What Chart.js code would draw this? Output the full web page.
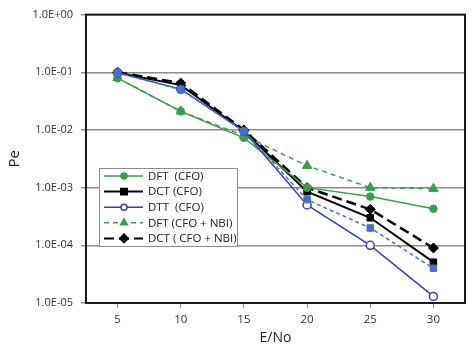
<!DOCTYPE html>
<html>
<head>
<meta charset="utf-8">
<script src="https://cdn.jsdelivr.net/npm/chart.js@4/dist/chart.umd.min.js"></script>
<style>
  html, body { margin: 0; padding: 0; background: #fff; }
  #wrap { width: 474px; height: 351px; }
</style>
</head>
<body>
<div id="wrap"><canvas id="peChart" width="474" height="351"></canvas></div>
<script>
'use strict';

/* ── data ────────────────────────────────────────────────────────────── */
const snrLabels = ['5', '10', '15', '20', '25', '30'];
const yTicks = [1e-5, 1e-4, 1e-3, 1e-2, 1e-1, 1];

const dftCfo    = [0.079, 0.021, 0.0073, 0.00100, 0.00070, 0.00043];
const dctCfo    = [0.098, 0.060, 0.0095, 0.00085, 0.00030, 0.000051];
const dttCfo    = [0.098, 0.051, 0.0095, 0.00050, 0.00010, 0.000013];
const dftCfoNbi = [0.080, 0.021, 0.0080, 0.00240, 0.00100, 0.00096];
const dctCfoNbi = [0.100, 0.065, 0.0100, 0.00100, 0.00042, 0.000090];
const dttCfoNbi = [0.098, 0.050, 0.0095, 0.00062, 0.00020, 0.000040];

const GREEN = '#3e9a4c';
const NAVY  = '#3b3fa8';
const BLUE  = '#4472c4';
const FONT  = "'Open Sans', 'Liberation Sans', sans-serif";

function sci(v) {
    const e = Math.round(Math.log10(v));
    const s = e < 0 ? '-' : '+';
    return '1.0E' + s + String(Math.abs(e)).padStart(2, '0');
}

/* ── plot-area frame (Excel style box) ── */
const frame = {
    id: 'frame',
    afterDatasetsDraw(chart) {
        const { ctx, chartArea: a } = chart;
        ctx.save();
        ctx.strokeStyle = '#1a1a1a';
        ctx.lineWidth = 2;
        ctx.strokeRect(a.left, a.top, a.right - a.left, a.bottom - a.top);
        ctx.restore();
    },
};

/* ── legend box inside the plot (last series is not listed) ── */
const insideLegend = {
    id: 'insideLegend',
    afterDraw(chart) {
        const ctx = chart.ctx;
        const items = chart.data.datasets
            .filter(d => d.legendRank > 0)
            .sort((a, b) => a.legendRank - b.legendRank);
        const x0 = 99, y0 = 168, w = 138, h = 78, rowH = 15.6;
        ctx.save();
        ctx.fillStyle = '#fff';
        ctx.fillRect(x0, y0, w, h);
        ctx.strokeStyle = '#8c8c8c';
        ctx.lineWidth = 1;
        ctx.strokeRect(x0 + 0.5, y0 + 0.5, w, h);
        items.forEach((d, i) => {
            const cy = y0 + 8 + i * rowH;
            ctx.beginPath();
            ctx.strokeStyle = d.borderColor;
            ctx.lineWidth = Math.min(d.borderWidth, 2);
            ctx.setLineDash(d.borderDash || []);
            ctx.moveTo(x0 + 5, cy);
            ctx.lineTo(x0 + 44, cy);
            ctx.stroke();
            ctx.setLineDash([]);
            ctx.fillStyle = d.pointBackgroundColor;
            ctx.strokeStyle = d.pointBorderColor;
            Chart.helpers.drawPoint(ctx, {
                pointStyle: d.pointStyle,
                radius: d.legendRadius,
                rotation: 0,
                borderWidth: d.pointBorderWidth,
            }, x0 + 25, cy);
            ctx.fillStyle = '#222';
            ctx.font = '11.5px ' + FONT;
            ctx.textBaseline = 'middle';
            ctx.textAlign = 'left';
            ctx.fillText(d.label, x0 + 49, cy + 0.5);
        });
        ctx.restore();
    },
};

function series(label, data, color, style, opts) {
    return Object.assign({
        label: label,
        data: data,
        borderColor: color,
        backgroundColor: color,
        borderWidth: 1.5,
        pointStyle: style,
        pointRadius: 4,
        pointBackgroundColor: color,
        pointBorderColor: color,
        pointBorderWidth: 1,
        tension: 0,
        legendRank: 0,
        legendRadius: 3,
    }, opts || {});
}

const ctx = document.getElementById('peChart').getContext('2d');
new Chart(ctx, {
    type: 'line',
    data: {
        labels: snrLabels,
        datasets: [
            series('DTT (CFO + NBI)', dttCfoNbi, BLUE, 'rect', { borderDash: [4, 3], pointRadius: 4.6 }),
            series('DTT  (CFO)', dttCfo, NAVY, 'circle', { pointBackgroundColor: '#fff', pointRadius: 4, pointBorderWidth: 1.5, legendRank: 3, legendRadius: 3 }),
            series('DFT (CFO + NBI)', dftCfoNbi, GREEN, 'triangle', { borderDash: [5, 4], pointRadius: 5.4, legendRank: 4, legendRadius: 4 }),
            series('DFT  (CFO)', dftCfo, GREEN, 'circle', { pointRadius: 3.8, legendRank: 1, legendRadius: 3 }),
            series('DCT (CFO)', dctCfo, '#000', 'rect', { borderWidth: 2, pointRadius: 4.6, legendRank: 2, legendRadius: 4.2 }),
            series('DCT ( CFO + NBI)', dctCfoNbi, '#000', 'rectRot', { borderWidth: 2.5, borderDash: [10, 5], pointRadius: 5, legendRank: 5, legendRadius: 4 }),
        ],
    },
    options: {
        responsive: false,
        animation: false,
        layout: { padding: { top: 13, right: 9, left: 0, bottom: 0 } },
        plugins: {
            legend: { display: false },
            tooltip: { enabled: false },
        },
        scales: {
            x: {
                type: 'category',
                offset: true,
                grid: { display: true, drawOnChartArea: false, drawTicks: true, tickLength: 5, color: '#8c8c8c', lineWidth: 1 },
                border: { display: false },
                ticks: { font: { family: FONT, size: 11.5 }, color: '#333', padding: 5, maxRotation: 0 },
                title: { display: true, text: 'E/No', font: { family: FONT, size: 14 }, color: '#222', padding: { top: 0, bottom: 5 } },
                afterFit: s => { s.height = 48; },
            },
            y: {
                type: 'logarithmic',
                min: 1e-5,
                max: 1,
                grid: { color: '#8c8c8c', lineWidth: 1.5, tickLength: 5, drawTicks: true },
                border: { display: false },
                afterBuildTicks: s => { s.ticks = yTicks.map(v => ({ value: v })); },
                ticks: { font: { family: FONT, size: 11 }, color: '#333', padding: 8, callback: v => sci(v) },
                title: { display: true, text: 'Pe', font: { family: FONT, size: 15 }, color: '#222', padding: { top: 6, bottom: 0 } },
                afterFit: s => { s.width = 86; },
            },
        },
    },
    plugins: [frame, insideLegend],
});
</script>
</body>
</html>
